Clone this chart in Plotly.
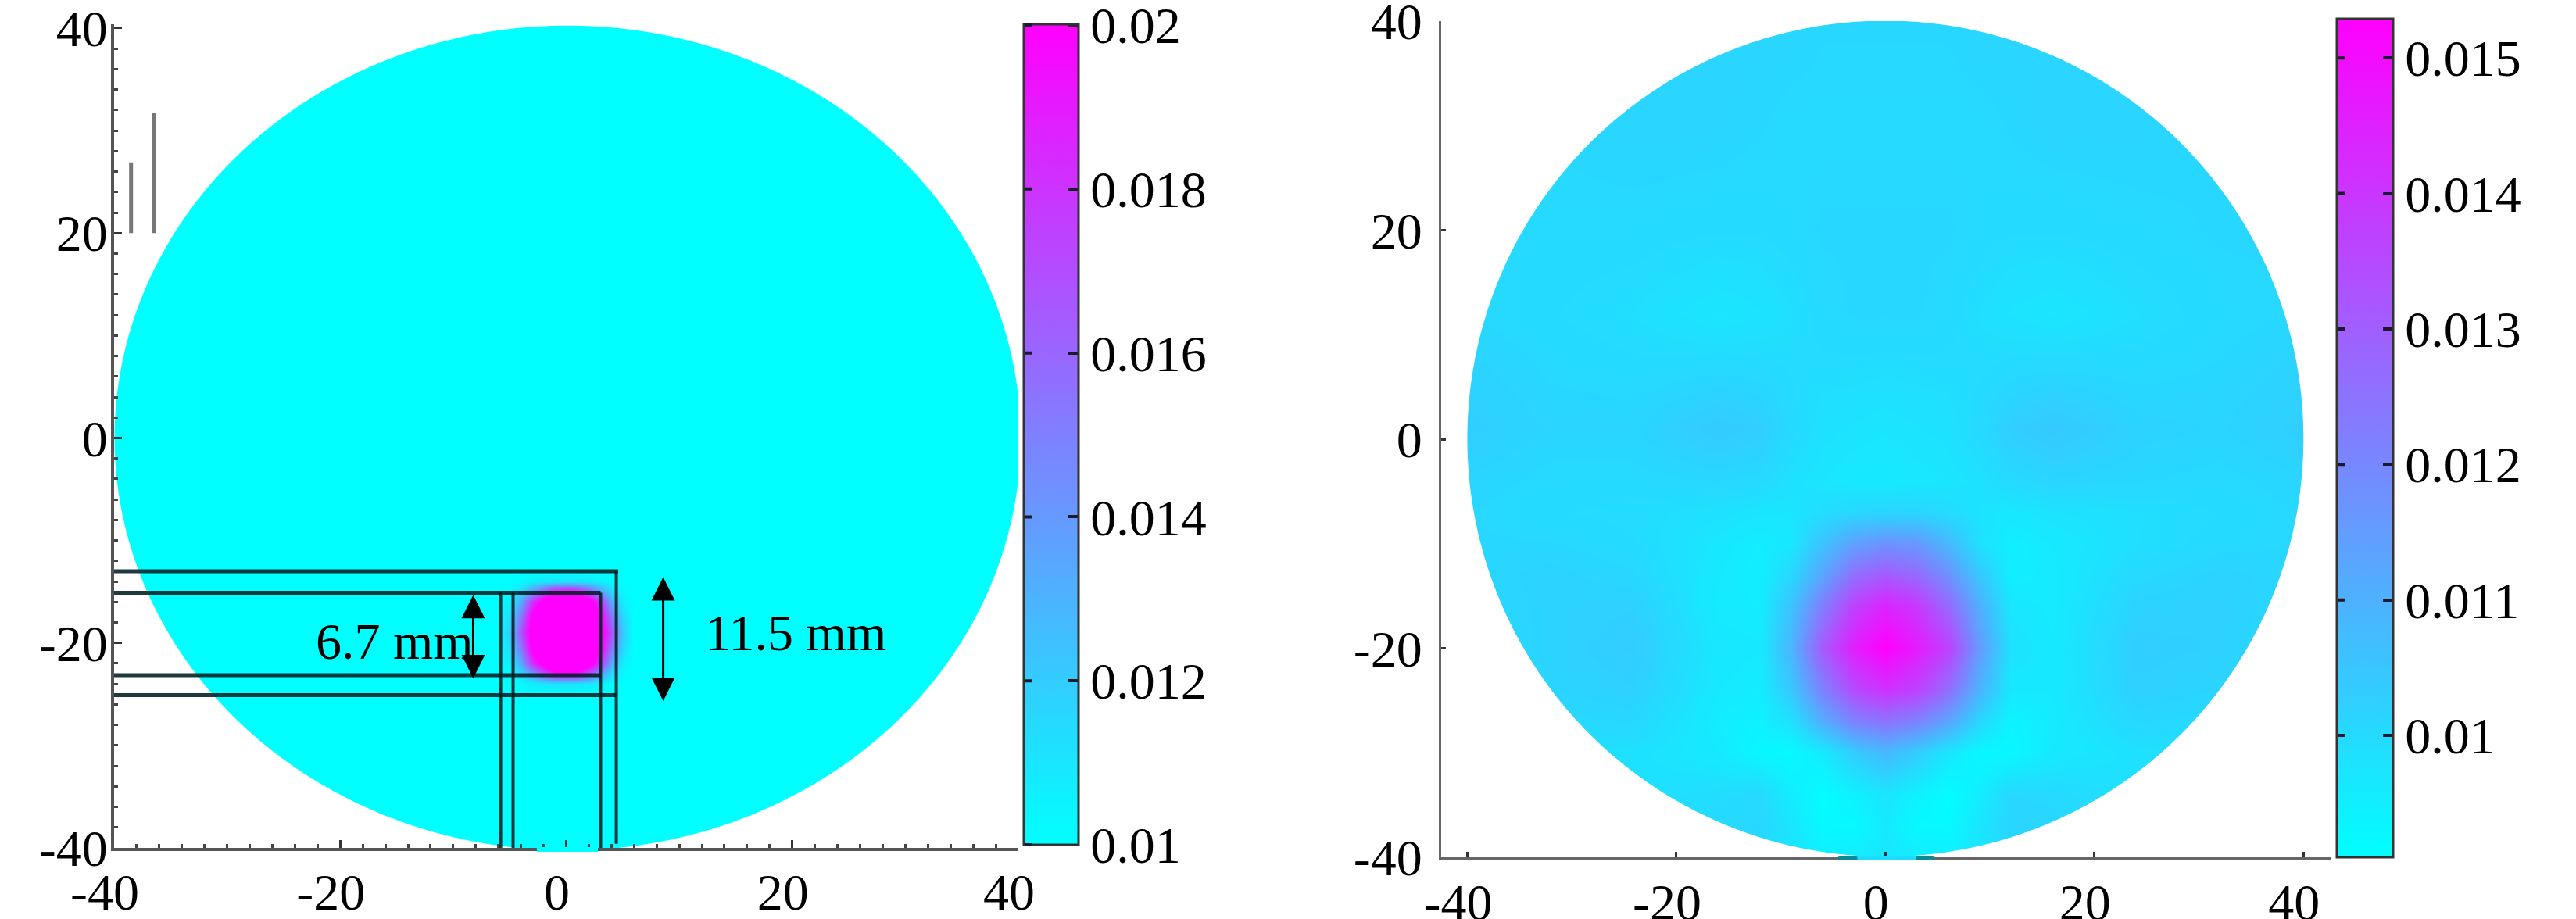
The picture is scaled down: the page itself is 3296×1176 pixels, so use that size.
import numpy as np
import plotly.graph_objects as go

W, H = 3296, 1176
FONT = "Liberation Serif"
FS = 66
CMAP = [[0, "#00ffff"], [1, "#ff00ff"]]

# ---------- left panel values (in 1e-3) ----------
left_x = [-40, -6, -5, -4, -3, -2, -1, 0, 1, 2, 3, 4, 5, 6, 40]
left_y = [40, -13, -14, -15, -16, -17.5, -19, -20.5, -22, -23, -24, -25, -40]
left_z = [
    [10]*15,
    [10]*15,
    [10, 10, 10, 10.2, 10.6, 10.9, 11, 11, 11, 10.9, 10.6, 10.2, 10, 10, 10],
    [10, 10, 10.2, 11.5, 14, 17, 19.5, 20, 19.5, 17, 14, 11.5, 10.2, 10, 10],
    [10, 10, 10.6, 13.5, 18, 21, 23, 24, 23, 21, 18, 13.5, 10.6, 10, 10],
    [10, 10, 11.5, 15.5, 20.5, 24, 26, 27, 26, 24, 20.5, 15.5, 11.5, 10, 10],
    [10, 10, 12, 17, 21, 25, 27, 28, 27, 25, 21, 17, 12, 10, 10],
    [10, 10, 11.5, 15.5, 20.5, 24, 26, 27, 26, 24, 20.5, 15.5, 11.5, 10, 10],
    [10, 10, 10.6, 13.5, 18, 21, 23, 24, 23, 21, 18, 13.5, 10.6, 10, 10],
    [10, 10, 10.2, 11.5, 14, 17, 19.5, 20, 19.5, 17, 14, 11.5, 10.2, 10, 10],
    [10, 10, 10, 10.2, 10.6, 10.9, 11, 11, 11, 10.9, 10.6, 10.2, 10, 10, 10],
    [10]*15,
    [10]*15,
]
left_zmin, left_zmax = 0.01, 0.02001
left_cb_vals = [0.01, 0.012, 0.014, 0.016, 0.018, 0.02]
left_cb_text = ["0.01", "0.012", "0.014", "0.016", "0.018", "0.02"]

# ---------- right panel values (in 1e-5) ----------
right_x = [-40, -32, -24, -16, -12, -9, -6, -3, 0, 3, 6, 9, 12, 16, 24, 32, 40]
right_y = [40, 30, 20, 12, 1, -4, -7, -10, -13, -16, -20, -24, -27, -30, -34, -37, -40]
right_z = [
    [1007, 1007, 1012, 1012, 1012, 1012, 1007, 1007, 1007, 1007, 1007, 1012, 1012, 1012, 1012, 1007, 1007],
    [1007, 1007, 1012, 1012, 1007, 1002, 1002, 1002, 1002, 1002, 1002, 1002, 1007, 1012, 1012, 1007, 1007],
    [1002, 1002, 1002, 997, 997, 1002, 1007, 1007, 1007, 1007, 1007, 1002, 997, 997, 1002, 1007, 1007],
    [1007, 997, 988, 971, 978, 988, 1002, 1007, 1007, 1007, 1002, 988, 978, 971, 988, 1002, 1007],
    [1027, 1012, 1012, 1037, 1027, 1002, 983, 978, 973, 978, 983, 1002, 1027, 1042, 1017, 1012, 1027],
    [1012, 1002, 1002, 1007, 1002, 983, 973, 963, 963, 968, 973, 983, 1002, 1012, 1007, 1002, 1012],
    [1007, 997, 993, 983, 973, 973, 993, 1007, 1012, 1012, 997, 978, 968, 978, 988, 997, 1007],
    [1007, 1007, 998, 968, 954, 968, 1056, 1141, 1177, 1165, 1080, 983, 949, 963, 988, 1002, 1007],
    [1007, 1017, 1007, 963, 949, 1007, 1129, 1262, 1311, 1275, 1177, 1044, 949, 959, 1002, 1017, 1007],
    [1002, 1017, 1022, 959, 954, 1056, 1226, 1372, 1445, 1396, 1275, 1104, 968, 959, 1017, 1022, 1002],
    [997, 1017, 1032, 968, 963, 1092, 1311, 1457, 1530, 1464, 1372, 1153, 983, 963, 1027, 1022, 993],
    [997, 1012, 1022, 963, 954, 1044, 1214, 1347, 1408, 1372, 1262, 1092, 963, 963, 1022, 1012, 993],
    [993, 1002, 1007, 954, 944, 983, 1104, 1214, 1250, 1214, 1129, 1007, 939, 959, 1007, 1002, 988],
    [988, 993, 983, 963, 929, 925, 959, 1032, 1080, 1032, 968, 929, 929, 963, 983, 993, 983],
    [983, 983, 983, 993, 1002, 954, 917, 944, 971, 944, 917, 954, 1007, 1002, 983, 983, 983],
    [983, 983, 983, 1002, 1007, 973, 925, 925, 963, 925, 925, 973, 1012, 1012, 983, 983, 983],
    [983, 983, 983, 993, 1002, 973, 949, 959, 968, 959, 949, 973, 1002, 993, 983, 983, 983],
]
right_zmin, right_zmax = 0.0091, 0.01529
right_cb_vals = [0.01, 0.011, 0.012, 0.013, 0.014, 0.015]
right_cb_text = ["0.01", "0.011", "0.012", "0.013", "0.014", "0.015"]

axis_ticks = [-40, -20, 0, 20, 40]
axis_text = ["-40", "-20", "0", "20", "40"]

# annotation overlay on left panel
hlines = [(-13.0, 4.6), (-15.1, 3.04), (-23.15, 3.04), (-25.1, 4.43)]
vlines = [(-5.8, -15.1, -40), (-4.7, -15.1, -40), (3.04, -15.1, -40), (4.43, -13.0, -39.6)]
gray_bars = [(-38.5, 20, 26.9), (-36.44, 20, 31.7)]
arrows = [(-8.23, -15.2, -23.45), (8.58, -13.46, -25.67)]
labels = [("6.7 mm", -15.2, -19.8), ("11.5 mm", 20.26, -19.0)]

# pixel geometry
L = dict(x0=146, x1=1303, y0=31, y1=1085)
R = dict(x0=1844, x1=2983, y0=27, y1=1097)
LB = dict(x0=1310, x1=1380, y0=31, y1=1081)
RB = dict(x0=2990, x1=3062, y0=24, y1=1097)

def xdom(b):
    return [b["x0"]/W, b["x1"]/W]
def ydom(b):
    return [1-b["y1"]/H, 1-b["y0"]/H]

def cbar(b, vals, text):
    return dict(
        tickmode="array", tickvals=vals, ticktext=text, ticks="inside", ticklen=14, tickwidth=4,
        tickcolor="#1a1a2a", outlinecolor="#333333", outlinewidth=3, borderwidth=0,
        thicknessmode="pixels", thickness=b["x1"]-b["x0"], lenmode="pixels", len=b["y1"]-b["y0"],
        x=b["x0"]/W, xanchor="left", xpad=0, y=1-b["y1"]/H, yanchor="bottom", ypad=0,
        ticklabeloverflow="allow",
        tickfont=dict(family=FONT, size=FS, color="black"),
    )

def mask(cx, cy, rx, ry):
    t = np.linspace(np.pi, 3*np.pi, 721)
    xs = list(cx + rx*np.cos(t)) + [-70, -70, 70, 70, -70, -70]
    ys = list(cy + ry*np.sin(t)) + [cy, 70, 70, -70, -70, cy]
    return xs, ys

fig = go.Figure()
fig.add_trace(go.Heatmap(x=left_x, y=left_y, z=(np.array(left_z)/1e3).tolist(), zmin=left_zmin, zmax=left_zmax,
                         colorscale=CMAP, zsmooth="best", colorbar=cbar(LB, left_cb_vals, left_cb_text),
                         xaxis="x", yaxis="y"))
mx, my = mask(0.12, 0.0, 40.08, 40.25)
fig.add_trace(go.Scatter(x=mx, y=my, fill="toself", fillcolor="white", mode="none", showlegend=False,
                         hoverinfo="skip", xaxis="x", yaxis="y"))
fig.add_trace(go.Heatmap(x=right_x, y=right_y, z=(np.array(right_z)/1e5).tolist(), zmin=right_zmin, zmax=right_zmax,
                         colorscale=CMAP, zsmooth="best", colorbar=cbar(RB, right_cb_vals, right_cb_text),
                         xaxis="x2", yaxis="y2"))
mx, my = mask(0.0, 0.05, 40.0, 40.0)
fig.add_trace(go.Scatter(x=mx, y=my, fill="toself", fillcolor="white", mode="none", showlegend=False,
                         hoverinfo="skip", xaxis="x2", yaxis="y2"))

tf = dict(family=FONT, size=FS, color="black")
common = dict(tickmode="array", tickvals=axis_ticks, ticktext=axis_text, ticks="inside", showgrid=False, zeroline=False,
              showline=True, tickfont=tf, tickcolor="#333333", automargin=False, ticklabeloverflow="allow")
left_minor = dict(dtick=2, ticks="inside", ticklen=5, tickwidth=3, tickcolor="#444444", showgrid=False)

fig.update_layout(
    width=W, height=H, margin=dict(l=0, r=0, t=0, b=0, pad=0, autoexpand=False),
    paper_bgcolor="white", plot_bgcolor="white", showlegend=False,
    xaxis=dict(domain=xdom(L), range=[-40, 40], linecolor="#555555", linewidth=4, ticklen=10, tickwidth=3,
               minor=left_minor, ticklabelshift=-12, ticklabelstandoff=-4, anchor="y", **common),
    yaxis=dict(domain=ydom(L), range=[-40, 40.38], linecolor="#555555", linewidth=4, ticklen=10, tickwidth=3,
               minor=left_minor, ticklabelstandoff=-9, anchor="x", **common),
    xaxis2=dict(domain=xdom(R), range=[-42.5, 42.67], linecolor="#666666", linewidth=3, ticklen=7, tickwidth=3,
                ticklabelshift=-12, ticklabelstandoff=-2, anchor="y2", **common),
    yaxis2=dict(domain=ydom(R), range=[-40.01, 40.01], linecolor="#666666", linewidth=3, ticklen=6, tickwidth=3,
                ticklabelstandoff=8, anchor="x2", **common),
)

LINE = "rgba(0,30,35,0.88)"
for y, x1 in hlines:
    fig.add_shape(type="line", xref="x", yref="y", x0=-40, x1=x1, y0=y, y1=y, line=dict(color=LINE, width=5))
for x, y0, y1 in vlines:
    fig.add_shape(type="line", xref="x", yref="y", x0=x, x1=x, y0=y0, y1=y1, line=dict(color=LINE, width=4))
for x, y0, y1 in gray_bars:
    fig.add_shape(type="line", xref="x", yref="y", x0=x, x1=x, y0=y0, y1=y1, line=dict(color="#777777", width=5))
fig.add_shape(type="rect", xref="x", yref="paper", x0=-2.6, x1=2.8, y0=1-(L["y1"]+5)/H, y1=1-(L["y1"]-1)/H,
              line=dict(width=0), fillcolor="#00ffff")
fig.add_shape(type="rect", xref="x2", yref="paper", x0=-2.7, x1=2.9, y0=1-(R["y1"]+4)/H, y1=1-(R["y1"]-1)/H,
              line=dict(width=0), fillcolor="#1cdcff")
for a, b in [(-4.5, -2.7), (2.9, 4.7)]:
    fig.add_shape(type="rect", xref="x2", yref="paper", x0=a, x1=b, y0=1-(R["y1"]+3)/H, y1=1-(R["y1"]-1)/H,
                  line=dict(width=0), fillcolor="#0a8c96")

for x, y0, y1 in arrows:
    fig.add_annotation(x=x, y=y1, ax=x, ay=y0, xref="x", yref="y", axref="x", ayref="y", text="",
                       showarrow=True, arrowhead=2, startarrowhead=2, arrowside="end+start",
                       arrowsize=2.0, startarrowsize=2.0, arrowwidth=3, arrowcolor="black")
for t, x, y in labels:
    fig.add_annotation(x=x, y=y, xref="x", yref="y", text=t, showarrow=False, font=dict(family=FONT, size=FS, color="black"))

# ticks on the left edge of each colour bar
for b, vals, lo, hi in [(LB, left_cb_vals, left_zmin, left_zmax), (RB, right_cb_vals, right_zmin, right_zmax)]:
    for v in vals:
        fy = 1 - (b["y1"] - (v-lo)/(hi-lo)*(b["y1"]-b["y0"]))/H
        fig.add_annotation(x=(b["x0"]+11)/W, y=fy, xref="paper", yref="paper", ax=-11, ay=0, axref="pixel", ayref="pixel",
                           text="", showarrow=True, arrowhead=0, arrowwidth=4, arrowcolor="#1a1a2a", standoff=0)

fig.write_html("out.html", config=dict(displayModeBar=False),
               post_script="document.body.style.margin='0';document.body.style.overflow='hidden';")
